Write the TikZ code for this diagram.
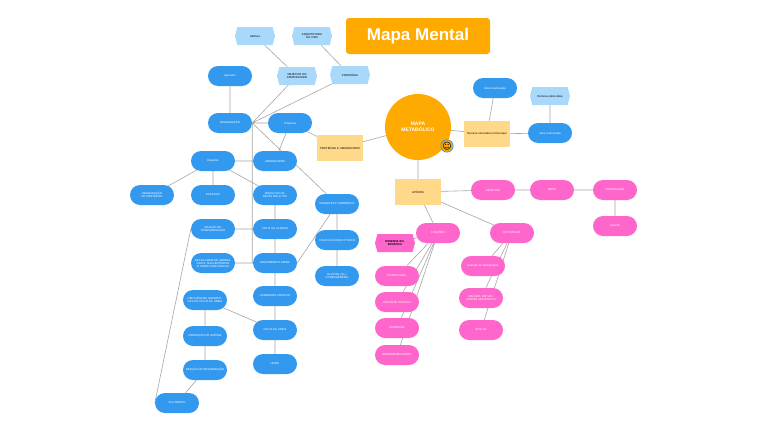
\documentclass[tikz,border=0pt]{standalone}
\usepackage{fontspec}
\setmainfont{Liberation Sans}
\newfontfamily\symfont{DejaVu Sans}
\usetikzlibrary{shapes.geometric,shapes.misc,shapes.symbols,backgrounds}
\definecolor{bl}{HTML}{3399EE}
\definecolor{lbl}{HTML}{A8D8FA}
\definecolor{pk}{HTML}{FF66CC}
\definecolor{ye}{HTML}{FFD98A}
\definecolor{og}{HTML}{FFAA00}
\begin{document}
\begin{tikzpicture}[x=1pt,y=-1pt,
  txt/.style={font=\fontsize{2.8}{3.2}\selectfont, align=center, text width=40pt},
  pill/.style={txt, rounded rectangle, fill=bl, text=white, minimum width=46pt, minimum height=20pt, inner sep=1pt},
  ppill/.style={pill, fill=pk},
  hexa/.style={txt, signal, signal to=west and east, signal pointer angle=150, fill=lbl, text=black, minimum width=40pt, minimum height=18pt, inner sep=1pt, text width=30pt},
  note/.style={txt, fill=ye, text=black, minimum width=46pt, minimum height=26pt, inner sep=1pt},
  ln/.style={draw=gray!70, line width=0.6pt}]
\useasboundingbox (0,0) rectangle (768,431);
% centre and title
\node (title) [fill=og, rounded corners=3pt, minimum width=144pt, minimum height=36pt, text=white, font=\bfseries\fontsize{17}{19}\selectfont] at (418,36) {Mapa Mental};
\node (mapa) [circle, fill=og, minimum size=66pt, text=white, align=center, font=\bfseries\fontsize{5}{6}\selectfont] at (418,127) {MAPA\\METABÓLICO};
% protein side
\node (aditivos) [hexa] at (255,36) {Aditivos};
\node (arq) [hexa] at (312,36) {ARQUITETURA DA VIDA};
\node (obj) [hexa] at (297,76) {OBJETIVO DO APRENDIZADO};
\node (proth) [hexa] at (350,75) {PROTEÍNAS};
\node (apr) [pill] at (230,76) {Aprender};
\node (deg) [pill] at (230,123) {DEGRADAÇÃO};
\node (prot) [pill] at (290,123) {Proteínas};
\node (pa) [note] at (340,148) {PROTEÍNAS E AMINOÁCIDOS};
\node (dig) [pill] at (213,161) {Digestão};
\node (amino) [pill] at (275,161) {AMINOÁCIDOS};
\node (degp) [pill] at (152,195) {DEGRADAÇÃO DE PROTEÍNAS};
\node (exc) [pill] at (213,195) {EXCESSO};
\node (jejum) [pill] at (275,195) {JEJUM OU DIABETES MELLITUS};
\node (ala) [pill] at (275,229) {CICLO DA ALANINA};
\node (grup) [pill] at (275,263) {GRUPAMENTO AMINA};
\node (carb) [pill] at (275,296) {CARBAMOIL FOSFATO};
\node (cu) [pill] at (275,330) {CICLO DA UREIA};
\node (ureia) [pill] at (275,364) {UREIA};
\node (esq) [pill] at (337,204) {ESQUELETO CARBÔNICO};
\node (cac) [pill] at (337,240) {CICLO DO ÁCIDO CÍTRICO};
\node (glic) [pill] at (337,276) {GLICOSE (GLICONEOGÊNESE)};
\node (trans) [pill] at (213,229) {REAÇÃO DE TRANSAMINAÇÃO};
\node (recic) [pill] at (213,263) {RECICLAGEM DE AMINOÁCIDOS, NUCLEOTÍDEOS E AMINAS BIOLÓGICAS};
\node (def) [pill] at (205,300) {DEFICIÊNCIAS ENZIMÁTICAS DO CICLO DA UREIA};
\node (form) [pill] at (205,336) {FORMAÇÃO DE AMÔNIA};
\node (desam) [pill] at (205,370) {REAÇÃO DE DESAMINAÇÃO};
\node (glut) [pill] at (177,403) {GLUTAMATO};
% idea side
\node (escr) [note] at (487,134) {Escreva uma ideia incrível aqui};
\node (id1) [pill] at (495,88) {Ideia relacionada};
\node (id2) [pill] at (550,133) {Ideia relacionada};
\node (esh) [hexa] at (550,96) {Escreva sobre ideia};
% lipid side
\node (lip) [note] at (418,192) {LIPÍDIOS};
\node (ldig) [ppill] at (493,190) {DIGESTÃO};
\node (boca) [ppill] at (552,190) {BOCA};
\node (mast) [ppill] at (615,190) {MASTIGAÇÃO};
\node (sal) [ppill] at (615,226) {SALIVA};
\node (func) [ppill] at (438,233) {FUNÇÕES};
\node (estr) [ppill] at (512,233) {ESTRUTURA};
\node (res) [hexa, fill=pk, font=\bfseries\fontsize{2.8}{3.2}\selectfont] at (395,243) {RESERVA ENERGÉTICA};
\node (estl) [ppill] at (397,276) {ESTRUTURAL};
\node (iso) [ppill] at (397,302) {ISOLANTE TÉRMICO};
\node (horm) [ppill] at (397,328) {HORMONAL};
\node (imp) [ppill] at (397,355) {IMPERMEABILIZANTE};
\node (cam) [ppill] at (483,266) {Camada de fosfolipídeos};
\node (sol) [ppill] at (481,298) {SOLÚVEL EM SOLVENTES ORGÂNICOS};
\node (apol) [ppill] at (481,330) {APOLAR};
\node (smile) [circle, fill=og, draw=bl, line width=0.8pt, minimum size=11pt, inner sep=0pt, font=\symfont\fontsize{9}{9}\selectfont] at (447,146) {☺};
% connectors
\begin{scope}[on background layer]
\fill[white] (0,0) rectangle (768,431);
\path[ln] (apr) -- (deg) (deg.east) -- (obj) (deg.east) -- (proth) (deg) -- (prot)
  (aditivos) -- (obj) (arq) -- (proth) (prot) -- (pa) (prot) -- (amino)
  (deg.east) -- (esq) (deg.east) -- (deg.east |- recic)
  (dig) -- (amino) (dig) -- (degp) (dig) -- (exc) (dig) -- (jejum)
  (jejum) -- (ala) (ala) -- (grup) (grup) -- (carb) (carb) -- (cu) (cu) -- (ureia)
  (trans) -- (ala) (recic) -- (grup) (grup.east) -- (esq) (esq) -- (cac) (cac) -- (glic)
  (def) -- (cu) (def) -- (form) (form) -- (desam) (desam) -- (glut)
  (glut.west) -- (trans.west)
  (pa) -- (mapa) (mapa) -- (escr) (escr) -- (id1) (escr) -- (id2) (id2) -- (esh)
  (mapa) -- (lip) (lip) -- (ldig) (ldig) -- (boca) (boca) -- (mast) (mast) -- (sal)
  (lip) -- (func) (lip) -- (estr)
  (func) -- (res) (func) -- (estl) (func) -- (iso) (func) -- (horm) (func) -- (imp)
  (estr) -- (cam) (estr) -- (sol) (estr) -- (apol);
\end{scope}
\end{tikzpicture}
\end{document}
